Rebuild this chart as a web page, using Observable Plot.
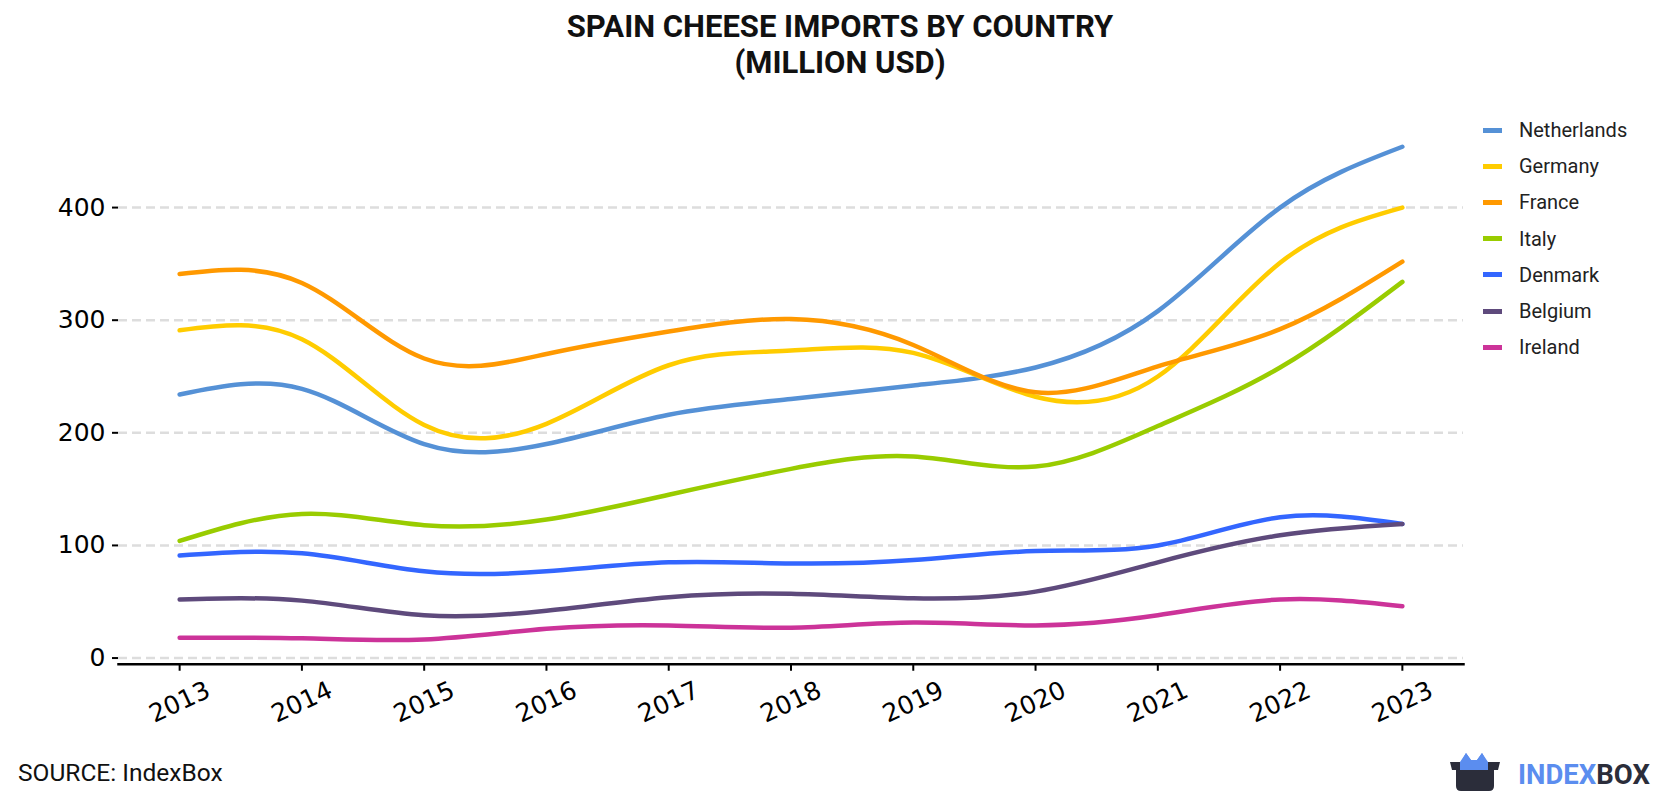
<!DOCTYPE html>
<html>
<head>
<meta charset="utf-8">
<script src="https://cdn.jsdelivr.net/npm/d3@7"></script>
<script src="https://cdn.jsdelivr.net/npm/@observablehq/plot@0.6"></script>
<style>
  html, body { margin: 0; padding: 0; background: #fff; }
  body { width: 1680px; height: 800px; position: relative; overflow: hidden; font-family: Roboto, "Noto Sans", sans-serif; }
  #title { position: absolute; top: 9px; left: 0; width: 1680px; text-align: center; font-weight: 700; font-size: 31px; line-height: 36px; color: #111; }
  #chart { position: absolute; top: 100px; left: 0; }
  #legend { position: absolute; left: 1483px; top: 112px; }
  .item { height: 36.2px; display: flex; align-items: center; font-size: 20px; color: #222; }
  .sw { width: 19px; height: 5px; margin-right: 17px; }
  #source { position: absolute; left: 18px; top: 758px; font-size: 24.5px; color: #111; }
  #logo { position: absolute; left: 1448px; top: 750px; }
</style>
</head>
<body>
<div id="title">SPAIN CHEESE IMPORTS BY COUNTRY<br>(MILLION USD)</div>
<div id="chart"></div>
<div id="legend"></div>
<div id="source">SOURCE: IndexBox</div>
<div id="logo">
  <svg width="220" height="46" viewBox="0 0 220 46">
    <path d="M12 14 L18 3 L23 10 L29 10 L34 3 L40 14 Z" fill="#5b8def"/>
    <path d="M2 12 L52 12 L50 20 L46 20 L46 36 Q46 41 41 41 L13 41 Q8 41 8 36 L8 20 L4 20 Z" fill="#2b2d3a"/>
    <path d="M12 12 L18 3 L23 10 L29 10 L34 3 L40 12 L40 20 L12 20 Z" fill="#5b8def"/>
    <text x="70" y="34" font-family="Roboto, sans-serif" font-weight="700" font-size="27.5" fill="#5b8def">INDEX<tspan fill="#2b2d3a">BOX</tspan></text>
  </svg>
</div>
<script>
// Spain cheese imports by country of origin, million USD
const years = [2013, 2014, 2015, 2016, 2017, 2018, 2019, 2020, 2021, 2022, 2023];
const countries = ["Netherlands", "Germany", "France", "Italy", "Denmark", "Belgium", "Ireland"];
const colors = ["#5591d6", "#ffcc00", "#ff9900", "#99cc00", "#3366ff", "#5e4a7c", "#cc3399"];

const netherlands = [234, 239, 190, 190, 216, 230, 242, 258, 308, 400, 454];
const germany     = [291, 283, 207, 208, 260, 273, 271, 232, 250, 351, 400];
const france      = [341, 333, 266, 270, 290, 301, 278, 236, 259, 292, 352];
const italy       = [104, 128, 118, 123, 145, 168, 179, 170, 206, 258, 334];
const denmark     = [91, 93, 77, 77, 85, 84, 87, 95, 100, 125, 119];
const belgium     = [52, 51, 38, 42, 54, 57, 53, 59, 85, 109, 119];
const ireland     = [18, 17.5, 16.5, 26, 29, 27, 31.5, 29, 38, 52, 46];

const yTicks = [0, 100, 200, 300, 400];

const seriesValues = [netherlands, germany, france, italy, denmark, belgium, ireland];
const rows = countries.flatMap((c, i) => years.map((yr, j) => ({country: c, year: yr, value: seriesValues[i][j]})));

const chart = Plot.plot({
  width: 1680,
  height: 650,
  marginLeft: 118,
  marginRight: 217,
  marginTop: 39.5,
  marginBottom: 86.25,
  style: {fontFamily: "'DejaVu Sans', sans-serif", color: "#000", background: "transparent"},
  x: {domain: [2012.5, 2023.5], label: null},
  y: {domain: [-5.5, 460], label: null},
  color: {domain: countries, range: colors},
  marks: [
    Plot.ruleY(yTicks, {stroke: "#dddddd", strokeWidth: 2.5, strokeDasharray: "9,5"}),
    Plot.line(rows, {x: "year", y: "value", z: "country", stroke: "country", strokeWidth: 4.5, curve: "natural"}),
    Plot.frame({anchor: "bottom", stroke: "#000", strokeWidth: 2.5}),
    Plot.axisY({ticks: yTicks, tickSize: 6, tickPadding: 7, fontSize: 25, strokeWidth: 2, label: null, tickFormat: d => String(d)}),
    Plot.axisX({ticks: years, tickSize: 7, strokeWidth: 2, tickRotate: -25, textAnchor: "middle", lineAnchor: "middle", tickPadding: 31, fontSize: 25, label: null, tickFormat: d => String(d)})
  ]
});
document.getElementById("chart").appendChild(chart);

const legend = document.getElementById("legend");
countries.forEach((c, i) => {
  const item = document.createElement("div");
  item.className = "item";
  const sw = document.createElement("span");
  sw.className = "sw";
  sw.style.background = colors[i];
  const t = document.createElement("span");
  t.textContent = c;
  item.appendChild(sw);
  item.appendChild(t);
  legend.appendChild(item);
});
</script>
</body>
</html>
